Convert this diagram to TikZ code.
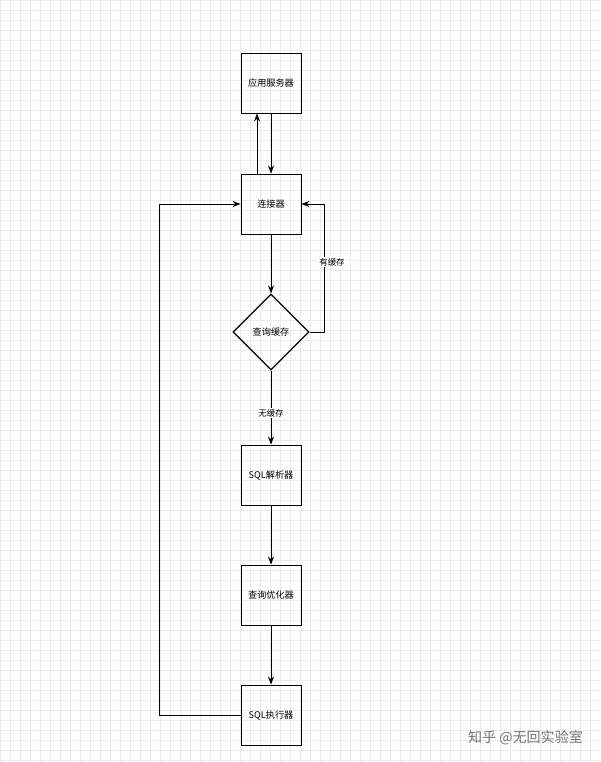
\documentclass[tikz,border=0pt]{standalone}
\usepackage{fontspec}
\setmainfont{Noto Sans CJK SC}
\usetikzlibrary{positioning,shapes.geometric,arrows.meta}
\begin{document}
\begin{tikzpicture}[x=0.025cm, y=-0.025cm, semithick, >=Stealth,
    box/.style = {draw, minimum width=1.5cm, minimum height=1.5cm, font=\fontsize{6.5}{8}\selectfont},
    choice/.style = {draw, thick, diamond, minimum width=1.9cm, minimum height=1.9cm, inner sep=0pt, font=\fontsize{6.5}{8}\selectfont},
    lbl/.style = {fill=white, inner sep=1pt, font=\fontsize{6}{7}\selectfont}]
    % fond quadrillé
    \useasboundingbox (0,0) rectangle (600,762);
    \fill[white] (0,0) rectangle (600,762);
    \draw[black!8, thin, step=0.25cm] (0,0) grid (600,762);

    % Disegna i nodi
    \node[box] (app) at (271,83) {应用服务器};
    \node[box] (conn) at (271,204) {连接器};
    \node[choice] (cache) at (271,332) {查询缓存};
    \node[box] (parse) at (271,475) {SQL解析器};
    \node[box] (opt) at (271,595) {查询优化器};
    \node[box] (exec) at (271,715) {SQL执行器};

    \draw[->] ([xshift=-0.35cm]conn.north) -- ([xshift=-0.35cm]app.south);
    \draw[->] (app) -- (conn);
    \draw[->] (conn) -- (cache);
    \draw[->] (cache.east) -| (324,204) -- (conn.east);
    \node[lbl] (hit) at (332,262) {有缓存};
    \draw[->] (cache) -- (parse);
    \node[lbl] (miss) at (271,413) {无缓存};
    \draw[->] (parse) -- (opt);
    \draw[->] (opt) -- (exec);
    \draw[->] (exec.west) -| (159,204) -- (conn.west);

    \node[black!55, anchor=east, font=\fontsize{10}{12}\selectfont] (mark) at (588,738) {知乎 @无回实验室};
\end{tikzpicture}
\end{document}
